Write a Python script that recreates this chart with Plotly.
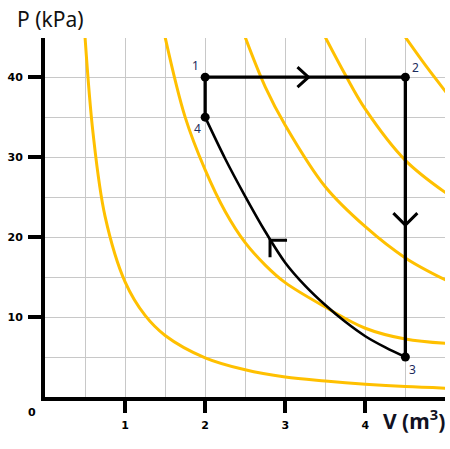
import plotly.graph_objects as go

# ---- data ----
# isotherm-like curves (V in m^3, P in kPa)
curve1_V = [0.5, 0.6, 0.75, 1.0, 1.25, 1.5, 2.0, 2.5, 3.0, 3.5, 4.0, 4.5, 5.01]
curve1_P = [45, 33, 22.6, 14.4, 10.2, 7.7, 4.9, 3.4, 2.5, 2.0, 1.6, 1.3, 1.1]
curve2_V = [1.5, 1.75, 2.0, 2.25, 2.5, 2.75, 3.0, 3.5, 4.0, 4.5, 5.01]
curve2_P = [45, 35, 28.4, 23.2, 19.3, 16.5, 14.3, 11.25, 8.6, 7.25, 6.7]
curve3_V = [2.5, 2.75, 3.0, 3.5, 4.0, 4.5, 5.01]
curve3_P = [45, 38.8, 34.0, 26.3, 21.3, 17.4, 14.6]
curve4_V = [3.5, 3.75, 4.0, 4.5, 5.01]
curve4_P = [45, 40.3, 36.0, 29.6, 25.5]
curve5_V = [4.5, 4.75, 5.01]
curve5_P = [45, 41.5, 38.1]

# cycle states 1..4
state_labels = ["1", "2", "3", "4"]
state_V = [2.0, 4.5, 4.5, 2.0]
state_P = [40, 40, 5, 35]

# process 3 -> 4 (curved)
proc34_V = [4.5, 4.25, 4.0, 3.75, 3.5, 3.25, 3.0, 2.75, 2.5, 2.25, 2.0]
proc34_P = [5.0, 6.2, 7.6, 9.4, 11.5, 13.9, 16.8, 20.7, 25.1, 29.8, 35.0]

# direction arrows (tip positions)
arrow_V = [3.29, 4.5, 2.81]
arrow_P = [40, 21.5, 19.6]

x_ticks = [1, 2, 3, 4]
y_ticks = [10, 20, 30, 40]

ORANGE = "#FFC000"
GRID = "#C8C8C8"
NAVY = "#1B2A5C"

X_RANGE = [0, 4.995]
Y_RANGE = [0, 44.9]
PLOT_W, PLOT_H = 400, 359

fig = go.Figure()

for cv, cp in [(curve1_V, curve1_P), (curve2_V, curve2_P), (curve3_V, curve3_P),
               (curve4_V, curve4_P), (curve5_V, curve5_P)]:
    fig.add_trace(go.Scatter(x=cv, y=cp, mode="lines",
                             line=dict(color=ORANGE, width=3, shape="spline"),
                             hoverinfo="skip"))

# straight segments 4 -> 1 -> 2 -> 3
seg_order = [3, 0, 1, 2]
fig.add_trace(go.Scatter(x=[state_V[i] for i in seg_order],
                         y=[state_P[i] for i in seg_order],
                         mode="lines", line=dict(color="black", width=3.3),
                         hoverinfo="skip"))
# curved 3 -> 4
fig.add_trace(go.Scatter(x=proc34_V, y=proc34_P, mode="lines",
                         line=dict(color="black", width=2.6, shape="spline"),
                         hoverinfo="skip"))
# state points
fig.add_trace(go.Scatter(x=state_V, y=state_P, mode="markers",
                         marker=dict(color="black", size=9),
                         hoverinfo="skip"))

# chevron arrows: wing offsets in pixels (x right, y down) relative to the tip
px_x = (X_RANGE[1] - X_RANGE[0]) / PLOT_W
px_y = (Y_RANGE[1] - Y_RANGE[0]) / PLOT_H
wing_offsets = [[(-11, -10), (-11, 10)],
                [(-12, -12), (12, -12)],
                [(17, 0), (0, 17)]]
chev_x, chev_y = [], []
for v, p, wings in zip(arrow_V, arrow_P, wing_offsets):
    (a, b), (c, d) = wings
    chev_x += [v + a * px_x, v, v + c * px_x, None]
    chev_y += [p - b * px_y, p, p - d * px_y, None]
fig.add_trace(go.Scatter(x=chev_x, y=chev_y, mode="lines",
                         line=dict(color="black", width=3), hoverinfo="skip"))

annotations = []
# state labels
label_offsets = [(-10, 12), (10, 10), (7, -12), (-8, -11)]
for lab, v, p, (dx, dy) in zip(state_labels, state_V, state_P, label_offsets):
    annotations.append(dict(x=v, y=p, xref="x", yref="y", text=lab, showarrow=False,
                            xshift=dx, yshift=dy,
                            font=dict(family="Noto Sans", size=12, color=NAVY)))

# axis titles and origin label
annotations.append(dict(x=0.0125, y=1.053, xref="paper", yref="paper",
                        xanchor="center", yanchor="middle",
                        text="P (kPa)", showarrow=False,
                        font=dict(family="Noto Sans", size=21, color="#111111")))
annotations.append(dict(x=0.922, y=-0.062, xref="paper", yref="paper",
                        xanchor="center", yanchor="middle",
                        text="V (m<sup>3</sup>)", showarrow=False,
                        font=dict(family="Noto Sans", size=21, color="#111122", weight="bold")))
annotations.append(dict(x=0, y=0, xref="x", yref="y", text="0", showarrow=False,
                        xshift=-13, yshift=-15,
                        font=dict(family="DejaVu Sans", size=11, color="black", weight="bold")))

fig.update_layout(
    width=450, height=449,
    margin=dict(l=45, r=5, t=38, b=52),
    paper_bgcolor="white", plot_bgcolor="white",
    showlegend=False,
    annotations=annotations,
)
fig.update_xaxes(range=X_RANGE, tickvals=x_ticks, ticktext=[str(t) for t in x_ticks],
                 showgrid=True, gridcolor=GRID, gridwidth=1, zeroline=False,
                 minor=dict(dtick=0.5, tick0=0, showgrid=True, gridcolor=GRID, gridwidth=1, ticks=""),
                 showline=True, linecolor="black", linewidth=4,
                 ticks="outside", ticklen=12, tickwidth=4, tickcolor="black",
                 ticklabelstandoff=3,
                 tickfont=dict(family="DejaVu Sans", size=11, color="black", weight="bold"))
fig.update_yaxes(range=Y_RANGE, tickvals=y_ticks, ticktext=[str(t) for t in y_ticks],
                 showgrid=True, gridcolor=GRID, gridwidth=1, zeroline=False,
                 minor=dict(dtick=5, tick0=0, showgrid=True, gridcolor=GRID, gridwidth=1, ticks=""),
                 showline=True, linecolor="black", linewidth=4,
                 ticks="outside", ticklen=13, tickwidth=4, tickcolor="black",
                 ticklabelstandoff=3,
                 tickfont=dict(family="DejaVu Sans", size=11, color="black", weight="bold"))

fig.write_html("out.html", config={"displayModeBar": False},
               post_script="document.body.style.margin='0px';")
